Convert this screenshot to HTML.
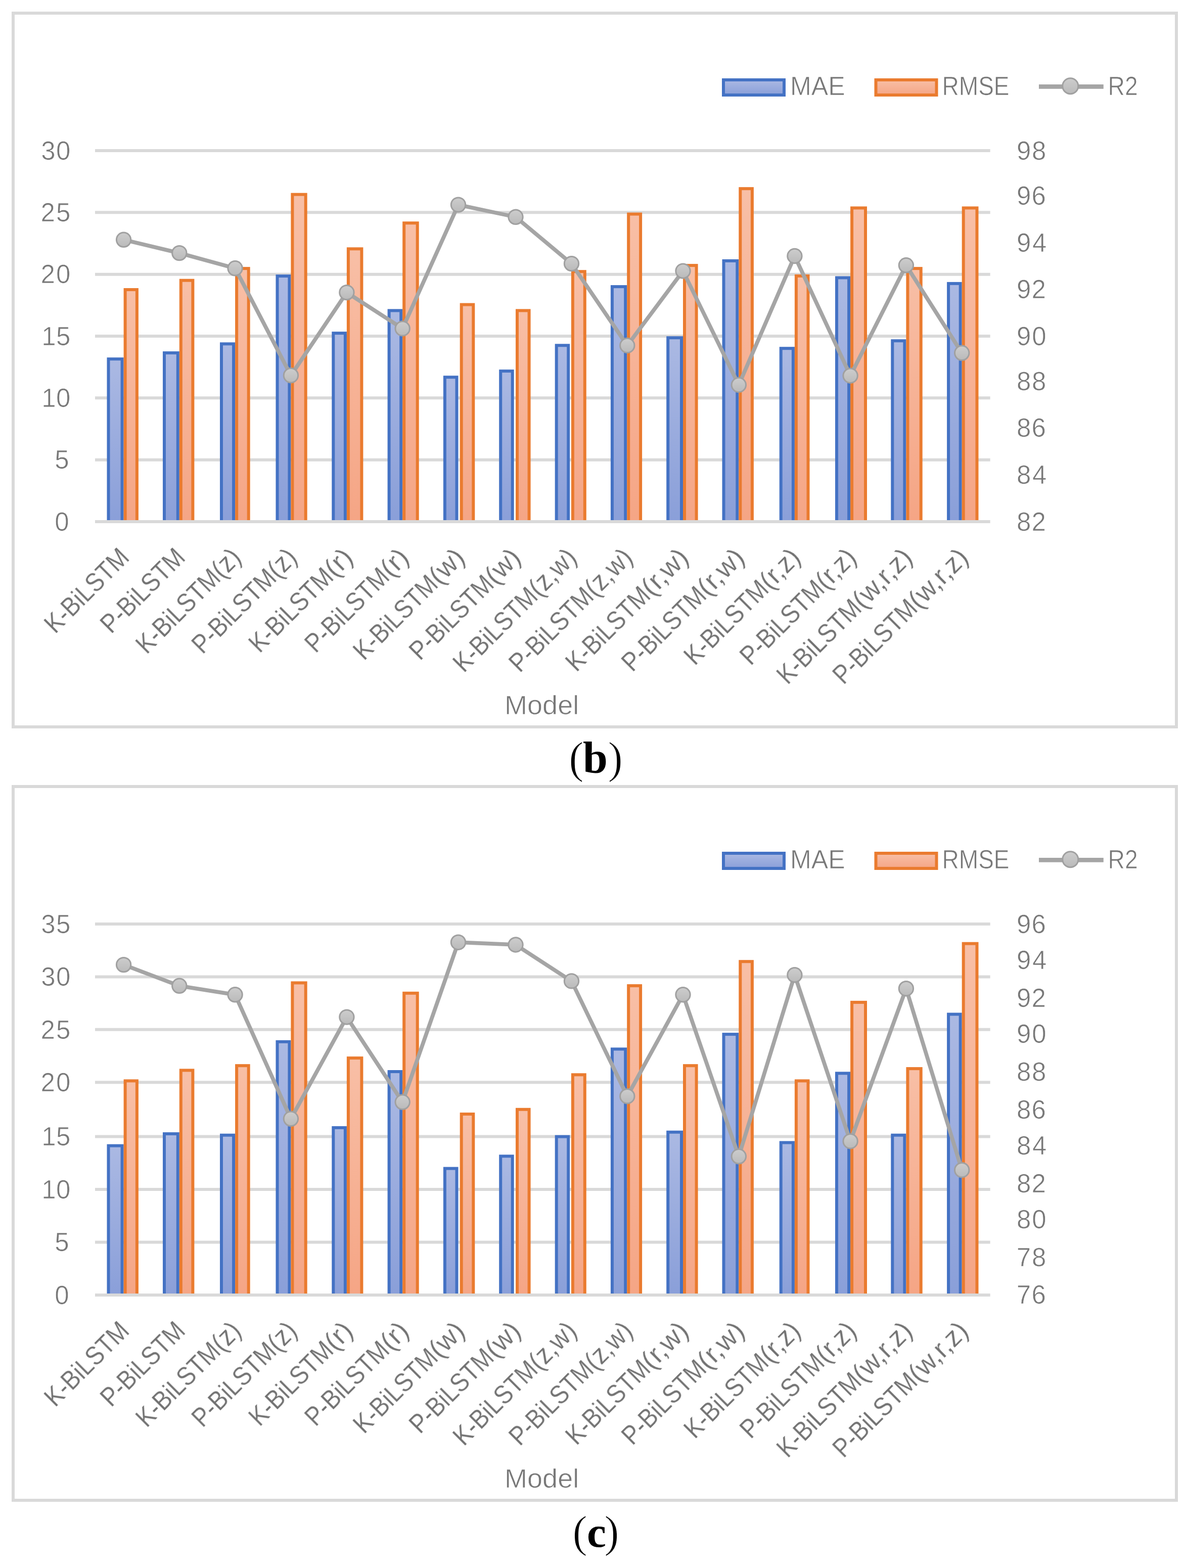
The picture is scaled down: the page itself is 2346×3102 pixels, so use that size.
<!DOCTYPE html>
<html lang="en">
<head>
<meta charset="utf-8">
<title>Model comparison charts (b) and (c)</title>
<style>
html,body{margin:0;padding:0;background:#fff;}
body{width:2346px;height:3102px;position:relative;overflow:hidden;font-family:"Liberation Sans",sans-serif;}
figure{margin:0;position:absolute;left:0;width:2346px;}
#fig-b{top:0;height:1553px;}
#fig-c{top:1530px;height:1572px;}
svg.plot{display:block;position:absolute;left:0;top:0;}
svg.plot text{font-family:"Liberation Sans",sans-serif;font-size:51px;fill:#787878;stroke:#fff;stroke-width:0.7px;stroke-linejoin:round;filter:blur(0.55px);}
svg.plot .xl text{fill:#727272;stroke-width:0.2px;}
svg.plot text.cap{font-family:"Liberation Serif",serif;font-size:88px;fill:#000;stroke:none;filter:none;}
svg.plot text.cap .p{stroke:#fff;stroke-width:1.2px;}
svg.plot text.cap .b{font-weight:700;font-size:88px;}
svg.plot text.cap .c{font-weight:700;font-size:85.5px;}
svg.defs{position:absolute;width:0;height:0;}
</style>
</head>
<body>
<svg class="defs" aria-hidden="true">
<defs>
<linearGradient id="gb" x1="0" y1="0" x2="0" y2="1"><stop offset="0" stop-color="#ABB9E3"/><stop offset="1" stop-color="#8A9FD9"/></linearGradient>
<linearGradient id="go" x1="0" y1="0" x2="0" y2="1"><stop offset="0" stop-color="#F8BFA6"/><stop offset="1" stop-color="#F5A585"/></linearGradient>
<linearGradient id="gm" x1="0" y1="0" x2="0" y2="1"><stop offset="0" stop-color="#CDCDCD"/><stop offset="1" stop-color="#BABABA"/></linearGradient>
</defs>
</svg>
<figure id="fig-b">
<svg class="plot" width="2346" height="1553" viewBox="0 0 2346 1553" role="img" aria-label="MAE, RMSE and R2 by model (b)">
<rect x="26" y="26" width="2301" height="1412" fill="none" stroke="#D9D9D9" stroke-width="6"/>
<g stroke="#D9D9D9" stroke-width="6">
<line x1="188" y1="298" x2="1958.7" y2="298"/>
<line x1="188" y1="420.3" x2="1958.7" y2="420.3"/>
<line x1="188" y1="542.7" x2="1958.7" y2="542.7"/>
<line x1="188" y1="665" x2="1958.7" y2="665"/>
<line x1="188" y1="787.3" x2="1958.7" y2="787.3"/>
<line x1="188" y1="909.7" x2="1958.7" y2="909.7"/>
</g>
<g class="mae" fill="url(#gb)" stroke="#4472C4" stroke-width="6">
<rect x="214.5" y="710.2" width="27.1" height="321.8"/>
<rect x="325" y="698.1" width="26.8" height="333.9"/>
<rect x="438" y="680.3" width="24.1" height="351.7"/>
<rect x="548.5" y="546.1" width="23.9" height="485.9"/>
<rect x="659.3" y="659.1" width="23.6" height="372.9"/>
<rect x="769.6" y="614.4" width="23.6" height="417.6"/>
<rect x="879.9" y="746.2" width="23.6" height="285.8"/>
<rect x="990.2" y="734.1" width="23.5" height="297.9"/>
<rect x="1100.7" y="683.3" width="23.5" height="348.7"/>
<rect x="1210.9" y="567.1" width="26.3" height="464.9"/>
<rect x="1321.2" y="668.2" width="26.8" height="363.8"/>
<rect x="1431.5" y="516" width="26.8" height="516"/>
<rect x="1544.7" y="689.2" width="24.2" height="342.8"/>
<rect x="1655" y="549.4" width="24.1" height="482.6"/>
<rect x="1765.3" y="674.2" width="24.1" height="357.8"/>
<rect x="1876.1" y="560.9" width="23.6" height="471.1"/>
</g>
<g class="rmse" fill="url(#go)" stroke="#EA7B2F" stroke-width="6">
<rect x="247.6" y="573" width="23.3" height="459"/>
<rect x="357.8" y="554.7" width="23.6" height="477.3"/>
<rect x="468.1" y="531.1" width="23.6" height="500.9"/>
<rect x="578.4" y="384.7" width="26.3" height="647.3"/>
<rect x="688.9" y="492.3" width="26.5" height="539.7"/>
<rect x="799.2" y="441.2" width="26.5" height="590.8"/>
<rect x="912.7" y="602.6" width="23.6" height="429.4"/>
<rect x="1023" y="614.4" width="23.6" height="417.6"/>
<rect x="1132.9" y="537.2" width="23.9" height="494.8"/>
<rect x="1243.2" y="423.5" width="23.9" height="608.5"/>
<rect x="1354" y="525.1" width="23.6" height="506.9"/>
<rect x="1464.3" y="373.2" width="23.6" height="658.8"/>
<rect x="1574.9" y="545.9" width="23.6" height="486.1"/>
<rect x="1685.1" y="411.4" width="26.9" height="620.6"/>
<rect x="1795.4" y="531.1" width="26.3" height="500.9"/>
<rect x="1905.7" y="411.4" width="26.8" height="620.6"/>
</g>
<line x1="188" y1="1032" x2="1958.7" y2="1032" stroke="#D9D9D9" stroke-width="6"/>
<polyline class="r2" points="244.6,474.3 354.8,500.6 465.1,530.8 575.4,742.7 685.9,578.6 796.2,649.9 906.5,405.1 1020,429.3 1130.5,521.6 1240.8,683.5 1351,536.1 1461.3,761.5 1571.9,506.5 1682.1,743.2 1792.4,524.8 1902.7,698.3" fill="none" stroke="#A5A5A5" stroke-width="7.8" stroke-linejoin="round"/>
<g fill="url(#gm)" stroke="#A0A0A0" stroke-width="3">
<circle cx="244.6" cy="474.3" r="14.2"/>
<circle cx="354.8" cy="500.6" r="14.2"/>
<circle cx="465.1" cy="530.8" r="14.2"/>
<circle cx="575.4" cy="742.7" r="14.2"/>
<circle cx="685.9" cy="578.6" r="14.2"/>
<circle cx="796.2" cy="649.9" r="14.2"/>
<circle cx="906.5" cy="405.1" r="14.2"/>
<circle cx="1020" cy="429.3" r="14.2"/>
<circle cx="1130.5" cy="521.6" r="14.2"/>
<circle cx="1240.8" cy="683.5" r="14.2"/>
<circle cx="1351" cy="536.1" r="14.2"/>
<circle cx="1461.3" cy="761.5" r="14.2"/>
<circle cx="1571.9" cy="506.5" r="14.2"/>
<circle cx="1682.1" cy="743.2" r="14.2"/>
<circle cx="1792.4" cy="524.8" r="14.2"/>
<circle cx="1902.7" cy="698.3" r="14.2"/>
</g>
<g class="legend">
<rect x="1431" y="158" width="120" height="30" fill="url(#gb)" stroke="#4472C4" stroke-width="6"/>
<text x="1562.9" y="187.8" textLength="108.8" lengthAdjust="spacingAndGlyphs">MAE</text>
<rect x="1732.5" y="158" width="120" height="30" fill="url(#go)" stroke="#EA7B2F" stroke-width="6"/>
<text x="1863.5" y="187.8" textLength="133.1" lengthAdjust="spacingAndGlyphs">RMSE</text>
<line x1="2055" y1="171.4" x2="2182.8" y2="171.4" stroke="#A5A5A5" stroke-width="8.6"/>
<circle cx="2117.3" cy="170.2" r="15.5" fill="url(#gm)" stroke="#A0A0A0" stroke-width="3"/>
<text x="2191.5" y="187.8" textLength="59.1" lengthAdjust="spacingAndGlyphs">R2</text>
</g>
<g class="yl">
<text x="81.3 111" y="315.7">30</text>
<text x="80.6 111" y="438">25</text>
<text x="80.6 111" y="560.4">20</text>
<text x="82.3 111" y="682.7">15</text>
<text x="82.3 111" y="805">10</text>
<text x="108.2" y="927.4">5</text>
<text x="108.2" y="1049.7">0</text>
</g>
<g class="yr">
<text x="2010.9 2041" y="315.5">98</text>
<text x="2010.9 2040.6" y="405.2">96</text>
<text x="2010.9 2042" y="497.6">94</text>
<text x="2010.9 2040.6" y="590.3">92</text>
<text x="2010.9 2041.2" y="682.6">90</text>
<text x="2011.1 2041" y="771.9">88</text>
<text x="2011.1 2040.6" y="864.4">86</text>
<text x="2011.1 2042" y="956.8">84</text>
<text x="2011.1 2040.6" y="1049.6">82</text>
</g>
<g class="xl" text-anchor="end">
<text transform="translate(258.3 1106) rotate(-45)" textLength="211" lengthAdjust="spacingAndGlyphs">K-BiLSTM</text>
<text transform="translate(369 1106) rotate(-45)" textLength="211" lengthAdjust="spacingAndGlyphs">P-BiLSTM</text>
<text transform="translate(479.7 1106) rotate(-45)"><tspan x="-57.3" textLength="211" lengthAdjust="spacingAndGlyphs">K-BiLSTM</tspan><tspan x="0" textLength="57.3" lengthAdjust="spacingAndGlyphs">(z)</tspan></text>
<text transform="translate(590.3 1106) rotate(-45)"><tspan x="-57.3" textLength="211" lengthAdjust="spacingAndGlyphs">P-BiLSTM</tspan><tspan x="0" textLength="57.3" lengthAdjust="spacingAndGlyphs">(z)</tspan></text>
<text transform="translate(701 1106) rotate(-45)"><tspan x="-54.3" textLength="211" lengthAdjust="spacingAndGlyphs">K-BiLSTM</tspan><tspan x="0" textLength="54.3" lengthAdjust="spacingAndGlyphs">(r)</tspan></text>
<text transform="translate(811.7 1106) rotate(-45)"><tspan x="-54.3" textLength="211" lengthAdjust="spacingAndGlyphs">P-BiLSTM</tspan><tspan x="0" textLength="54.3" lengthAdjust="spacingAndGlyphs">(r)</tspan></text>
<text transform="translate(922.3 1106) rotate(-45)"><tspan x="-75.1" textLength="211" lengthAdjust="spacingAndGlyphs">K-BiLSTM</tspan><tspan x="0" textLength="75.1" lengthAdjust="spacingAndGlyphs">(w)</tspan></text>
<text transform="translate(1033 1106) rotate(-45)"><tspan x="-75.1" textLength="211" lengthAdjust="spacingAndGlyphs">P-BiLSTM</tspan><tspan x="0" textLength="75.1" lengthAdjust="spacingAndGlyphs">(w)</tspan></text>
<text transform="translate(1143.7 1106) rotate(-45)"><tspan x="-109.1" textLength="211" lengthAdjust="spacingAndGlyphs">K-BiLSTM</tspan><tspan x="0" textLength="109.1" lengthAdjust="spacingAndGlyphs">(z,w)</tspan></text>
<text transform="translate(1254.4 1106) rotate(-45)"><tspan x="-109.1" textLength="211" lengthAdjust="spacingAndGlyphs">P-BiLSTM</tspan><tspan x="0" textLength="109.1" lengthAdjust="spacingAndGlyphs">(z,w)</tspan></text>
<text transform="translate(1365 1106) rotate(-45)"><tspan x="-106.9" textLength="211" lengthAdjust="spacingAndGlyphs">K-BiLSTM</tspan><tspan x="0" textLength="106.9" lengthAdjust="spacingAndGlyphs">(r,w)</tspan></text>
<text transform="translate(1475.7 1106) rotate(-45)"><tspan x="-106.9" textLength="211" lengthAdjust="spacingAndGlyphs">P-BiLSTM</tspan><tspan x="0" textLength="106.9" lengthAdjust="spacingAndGlyphs">(r,w)</tspan></text>
<text transform="translate(1586.4 1106) rotate(-45)"><tspan x="-89.1" textLength="211" lengthAdjust="spacingAndGlyphs">K-BiLSTM</tspan><tspan x="0" textLength="89.1" lengthAdjust="spacingAndGlyphs">(r,z)</tspan></text>
<text transform="translate(1697 1106) rotate(-45)"><tspan x="-89.1" textLength="211" lengthAdjust="spacingAndGlyphs">P-BiLSTM</tspan><tspan x="0" textLength="89.1" lengthAdjust="spacingAndGlyphs">(r,z)</tspan></text>
<text transform="translate(1807.7 1106) rotate(-45)"><tspan x="-142.5" textLength="211" lengthAdjust="spacingAndGlyphs">K-BiLSTM</tspan><tspan x="0" textLength="142.5" lengthAdjust="spacingAndGlyphs">(w,r,z)</tspan></text>
<text transform="translate(1918.4 1106) rotate(-45)"><tspan x="-142.5" textLength="211" lengthAdjust="spacingAndGlyphs">P-BiLSTM</tspan><tspan x="0" textLength="142.5" lengthAdjust="spacingAndGlyphs">(w,r,z)</tspan></text>
</g>
<text x="998.1" y="1413.4" textLength="147.1" lengthAdjust="spacingAndGlyphs">Model</text>
<text class="cap" y="1529.2"><tspan class="p" x="1125.3">(</tspan><tspan class="b" x="1152.9">b</tspan><tspan class="p" x="1202.4">)</tspan></text>
</svg>
</figure>
<figure id="fig-c">
<svg class="plot" width="2346" height="1553" viewBox="0 0 2346 1553" role="img" aria-label="MAE, RMSE and R2 by model (c)">
<rect x="26" y="26" width="2301" height="1412" fill="none" stroke="#D9D9D9" stroke-width="6"/>
<g stroke="#D9D9D9" stroke-width="6">
<line x1="188" y1="298" x2="1958.7" y2="298"/>
<line x1="188" y1="402.4" x2="1958.7" y2="402.4"/>
<line x1="188" y1="506.8" x2="1958.7" y2="506.8"/>
<line x1="188" y1="611.2" x2="1958.7" y2="611.2"/>
<line x1="188" y1="718.5" x2="1958.7" y2="718.5"/>
<line x1="188" y1="823" x2="1958.7" y2="823"/>
<line x1="188" y1="927.4" x2="1958.7" y2="927.4"/>
</g>
<g class="mae" fill="url(#gb)" stroke="#4472C4" stroke-width="6">
<rect x="214.5" y="736.6" width="27.1" height="295.4"/>
<rect x="325" y="713" width="26.8" height="319"/>
<rect x="438" y="715.7" width="24.1" height="316.3"/>
<rect x="548.5" y="530.9" width="23.9" height="501.1"/>
<rect x="659.3" y="700.9" width="23.6" height="331.1"/>
<rect x="769.6" y="590" width="23.6" height="442"/>
<rect x="879.9" y="781.6" width="23.6" height="250.4"/>
<rect x="990.2" y="757.3" width="23.5" height="274.7"/>
<rect x="1100.7" y="718.6" width="23.5" height="313.4"/>
<rect x="1210.9" y="545.4" width="26.3" height="486.6"/>
<rect x="1321.2" y="709.7" width="26.8" height="322.3"/>
<rect x="1431.5" y="516.1" width="26.8" height="515.9"/>
<rect x="1544.7" y="730.4" width="24.2" height="301.6"/>
<rect x="1655" y="593.3" width="24.1" height="438.7"/>
<rect x="1765.3" y="715.7" width="24.1" height="316.3"/>
<rect x="1876.1" y="476.5" width="23.6" height="555.5"/>
</g>
<g class="rmse" fill="url(#go)" stroke="#EA7B2F" stroke-width="6">
<rect x="247.6" y="608.3" width="23.3" height="423.7"/>
<rect x="357.8" y="587.4" width="23.6" height="444.6"/>
<rect x="468.1" y="578.2" width="23.6" height="453.8"/>
<rect x="578.4" y="414.4" width="26.3" height="617.6"/>
<rect x="688.9" y="563.1" width="26.5" height="468.9"/>
<rect x="799.2" y="434.8" width="26.5" height="597.2"/>
<rect x="912.7" y="674" width="23.6" height="358"/>
<rect x="1023" y="664.8" width="23.6" height="367.2"/>
<rect x="1132.9" y="596.2" width="23.9" height="435.8"/>
<rect x="1243.2" y="420.1" width="23.9" height="611.9"/>
<rect x="1354" y="578.2" width="23.6" height="453.8"/>
<rect x="1464.3" y="372.2" width="23.6" height="659.8"/>
<rect x="1574.9" y="608.3" width="23.6" height="423.7"/>
<rect x="1685.1" y="452.9" width="26.9" height="579.1"/>
<rect x="1795.4" y="584.1" width="26.3" height="447.9"/>
<rect x="1905.7" y="336.7" width="26.8" height="695.3"/>
</g>
<line x1="188" y1="1032" x2="1958.7" y2="1032" stroke="#D9D9D9" stroke-width="6"/>
<polyline class="r2" points="244.6,378.6 354.8,420.3 465.1,437.8 575.4,683.3 685.9,482.1 796.2,650.3 906.5,334.2 1020,339 1130.5,410.9 1240.8,638.7 1351,437.8 1461.3,757.8 1571.9,398.8 1682.1,727.7 1792.4,425.7 1902.7,784.7" fill="none" stroke="#A5A5A5" stroke-width="7.8" stroke-linejoin="round"/>
<g fill="url(#gm)" stroke="#A0A0A0" stroke-width="3">
<circle cx="244.6" cy="378.6" r="14.2"/>
<circle cx="354.8" cy="420.3" r="14.2"/>
<circle cx="465.1" cy="437.8" r="14.2"/>
<circle cx="575.4" cy="683.3" r="14.2"/>
<circle cx="685.9" cy="482.1" r="14.2"/>
<circle cx="796.2" cy="650.3" r="14.2"/>
<circle cx="906.5" cy="334.2" r="14.2"/>
<circle cx="1020" cy="339" r="14.2"/>
<circle cx="1130.5" cy="410.9" r="14.2"/>
<circle cx="1240.8" cy="638.7" r="14.2"/>
<circle cx="1351" cy="437.8" r="14.2"/>
<circle cx="1461.3" cy="757.8" r="14.2"/>
<circle cx="1571.9" cy="398.8" r="14.2"/>
<circle cx="1682.1" cy="727.7" r="14.2"/>
<circle cx="1792.4" cy="425.7" r="14.2"/>
<circle cx="1902.7" cy="784.7" r="14.2"/>
</g>
<g class="legend">
<rect x="1431" y="158" width="120" height="30" fill="url(#gb)" stroke="#4472C4" stroke-width="6"/>
<text x="1562.9" y="187.8" textLength="108.8" lengthAdjust="spacingAndGlyphs">MAE</text>
<rect x="1732.5" y="158" width="120" height="30" fill="url(#go)" stroke="#EA7B2F" stroke-width="6"/>
<text x="1863.5" y="187.8" textLength="133.1" lengthAdjust="spacingAndGlyphs">RMSE</text>
<line x1="2055" y1="171.4" x2="2182.8" y2="171.4" stroke="#A5A5A5" stroke-width="8.6"/>
<circle cx="2117.3" cy="170.2" r="15.5" fill="url(#gm)" stroke="#A0A0A0" stroke-width="3"/>
<text x="2191.5" y="187.8" textLength="59.1" lengthAdjust="spacingAndGlyphs">R2</text>
</g>
<g class="yl">
<text x="81.3 111" y="315.7">35</text>
<text x="81.3 111" y="420.1">30</text>
<text x="80.6 111" y="524.5">25</text>
<text x="80.6 111" y="628.9">20</text>
<text x="82.3 111" y="736.2">15</text>
<text x="82.3 111" y="840.7">10</text>
<text x="108.2" y="945.1">5</text>
<text x="108.2" y="1049.6">0</text>
</g>
<g class="yr">
<text x="2010.9 2040.6" y="315.5">96</text>
<text x="2010.9 2042" y="386.9">94</text>
<text x="2010.9 2040.6" y="461.6">92</text>
<text x="2010.9 2041.2" y="533">90</text>
<text x="2011.1 2041" y="607.7">88</text>
<text x="2011.1 2040.6" y="682.6">86</text>
<text x="2011.1 2042" y="753.8">84</text>
<text x="2011.1 2040.6" y="828.8">82</text>
<text x="2011.1 2041.2" y="899.9">80</text>
<text x="2010.7 2041" y="974.6">78</text>
<text x="2010.7 2040.6" y="1049.4">76</text>
</g>
<g class="xl" text-anchor="end">
<text transform="translate(258.3 1106) rotate(-45)" textLength="211" lengthAdjust="spacingAndGlyphs">K-BiLSTM</text>
<text transform="translate(369 1106) rotate(-45)" textLength="211" lengthAdjust="spacingAndGlyphs">P-BiLSTM</text>
<text transform="translate(479.7 1106) rotate(-45)"><tspan x="-57.3" textLength="211" lengthAdjust="spacingAndGlyphs">K-BiLSTM</tspan><tspan x="0" textLength="57.3" lengthAdjust="spacingAndGlyphs">(z)</tspan></text>
<text transform="translate(590.3 1106) rotate(-45)"><tspan x="-57.3" textLength="211" lengthAdjust="spacingAndGlyphs">P-BiLSTM</tspan><tspan x="0" textLength="57.3" lengthAdjust="spacingAndGlyphs">(z)</tspan></text>
<text transform="translate(701 1106) rotate(-45)"><tspan x="-54.3" textLength="211" lengthAdjust="spacingAndGlyphs">K-BiLSTM</tspan><tspan x="0" textLength="54.3" lengthAdjust="spacingAndGlyphs">(r)</tspan></text>
<text transform="translate(811.7 1106) rotate(-45)"><tspan x="-54.3" textLength="211" lengthAdjust="spacingAndGlyphs">P-BiLSTM</tspan><tspan x="0" textLength="54.3" lengthAdjust="spacingAndGlyphs">(r)</tspan></text>
<text transform="translate(922.3 1106) rotate(-45)"><tspan x="-75.1" textLength="211" lengthAdjust="spacingAndGlyphs">K-BiLSTM</tspan><tspan x="0" textLength="75.1" lengthAdjust="spacingAndGlyphs">(w)</tspan></text>
<text transform="translate(1033 1106) rotate(-45)"><tspan x="-75.1" textLength="211" lengthAdjust="spacingAndGlyphs">P-BiLSTM</tspan><tspan x="0" textLength="75.1" lengthAdjust="spacingAndGlyphs">(w)</tspan></text>
<text transform="translate(1143.7 1106) rotate(-45)"><tspan x="-109.1" textLength="211" lengthAdjust="spacingAndGlyphs">K-BiLSTM</tspan><tspan x="0" textLength="109.1" lengthAdjust="spacingAndGlyphs">(z,w)</tspan></text>
<text transform="translate(1254.4 1106) rotate(-45)"><tspan x="-109.1" textLength="211" lengthAdjust="spacingAndGlyphs">P-BiLSTM</tspan><tspan x="0" textLength="109.1" lengthAdjust="spacingAndGlyphs">(z,w)</tspan></text>
<text transform="translate(1365 1106) rotate(-45)"><tspan x="-106.9" textLength="211" lengthAdjust="spacingAndGlyphs">K-BiLSTM</tspan><tspan x="0" textLength="106.9" lengthAdjust="spacingAndGlyphs">(r,w)</tspan></text>
<text transform="translate(1475.7 1106) rotate(-45)"><tspan x="-106.9" textLength="211" lengthAdjust="spacingAndGlyphs">P-BiLSTM</tspan><tspan x="0" textLength="106.9" lengthAdjust="spacingAndGlyphs">(r,w)</tspan></text>
<text transform="translate(1586.4 1106) rotate(-45)"><tspan x="-89.1" textLength="211" lengthAdjust="spacingAndGlyphs">K-BiLSTM</tspan><tspan x="0" textLength="89.1" lengthAdjust="spacingAndGlyphs">(r,z)</tspan></text>
<text transform="translate(1697 1106) rotate(-45)"><tspan x="-89.1" textLength="211" lengthAdjust="spacingAndGlyphs">P-BiLSTM</tspan><tspan x="0" textLength="89.1" lengthAdjust="spacingAndGlyphs">(r,z)</tspan></text>
<text transform="translate(1807.7 1106) rotate(-45)"><tspan x="-142.5" textLength="211" lengthAdjust="spacingAndGlyphs">K-BiLSTM</tspan><tspan x="0" textLength="142.5" lengthAdjust="spacingAndGlyphs">(w,r,z)</tspan></text>
<text transform="translate(1918.4 1106) rotate(-45)"><tspan x="-142.5" textLength="211" lengthAdjust="spacingAndGlyphs">P-BiLSTM</tspan><tspan x="0" textLength="142.5" lengthAdjust="spacingAndGlyphs">(w,r,z)</tspan></text>
</g>
<text x="998.1" y="1413.4" textLength="147.1" lengthAdjust="spacingAndGlyphs">Model</text>
<text class="cap" y="1529.6"><tspan class="p" x="1132.5">(</tspan><tspan class="c" x="1161">c</tspan><tspan class="p" x="1195.2">)</tspan></text>
</svg>
</figure>
</body>
</html>
